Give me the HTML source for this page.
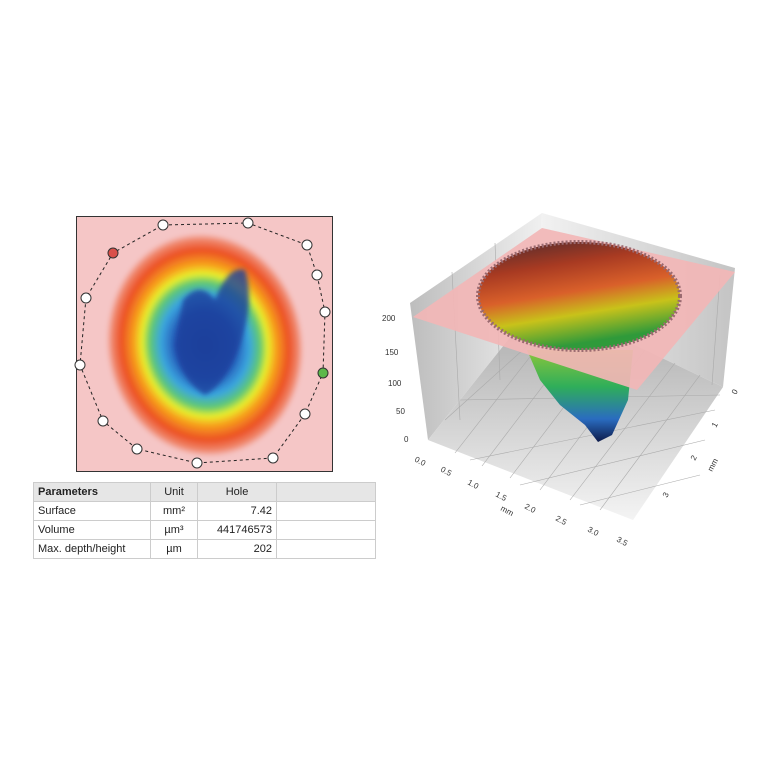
<!DOCTYPE html>
<html><head><meta charset="utf-8"><style>
body{margin:0;background:#fff;width:768px;height:768px;overflow:hidden;font-family:"Liberation Sans",sans-serif}
svg{position:absolute;left:0;top:0}
table{position:absolute;left:33px;top:482px;border-collapse:collapse;font-size:11px;color:#222}
td{border:1px solid #ccc;height:18px;padding:0 4px}
</style></head><body>
<svg width="768" height="768" viewBox="0 0 768 768">
<defs>
<radialGradient id="blob" cx="0.5" cy="0.5" r="0.5">
<stop offset="0" stop-color="#1a3f9a"/>
<stop offset="0.3" stop-color="#2556b5"/>
<stop offset="0.45" stop-color="#3aa6e0"/>
<stop offset="0.56" stop-color="#5fc872"/>
<stop offset="0.64" stop-color="#eaf02a"/>
<stop offset="0.72" stop-color="#f7a21e"/>
<stop offset="0.85" stop-color="#ec4f22"/>
<stop offset="0.95" stop-color="#f08a70"/>
<stop offset="1" stop-color="#f5c6c6"/>
</radialGradient>
<filter id="bl"><feGaussianBlur stdDeviation="2.5"/></filter>
<linearGradient id="lw" x1="0" y1="0" x2="1" y2="0"><stop offset="0" stop-color="#bdbdbd"/><stop offset="1" stop-color="#f0f0f0"/></linearGradient>
<linearGradient id="rw" x1="0" y1="0" x2="1" y2="0"><stop offset="0" stop-color="#f2f2f2"/><stop offset="1" stop-color="#c4c4c4"/></linearGradient>
<linearGradient id="fl" x1="0" y1="0" x2="0" y2="1"><stop offset="0" stop-color="#a8a8a8"/><stop offset="1" stop-color="#f4f4f4"/></linearGradient>
<linearGradient id="hole" x1="0" y1="0" x2="0.3" y2="1"><stop offset="0" stop-color="#4a2a2e"/><stop offset="0.3" stop-color="#a83a22"/><stop offset="0.55" stop-color="#d9602a"/><stop offset="0.75" stop-color="#c8c21a"/><stop offset="1" stop-color="#2f9a3a"/></linearGradient>
<linearGradient id="cone" x1="0" y1="0" x2="0" y2="1"><stop offset="0" stop-color="#8cc63a"/><stop offset="0.4" stop-color="#2fae5a"/><stop offset="0.75" stop-color="#2a6cc0"/><stop offset="1" stop-color="#0d1a4a"/></linearGradient>
</defs>
<rect x="76.5" y="216.5" width="256" height="255" fill="#f5c6c6" stroke="#333"/>
<ellipse cx="205" cy="345" rx="98" ry="112" fill="url(#blob)" filter="url(#bl)" transform="rotate(-10 205 345)"/>
<path d="M183 300 Q200 280 215 300 Q228 265 245 270 Q255 300 240 345 Q225 385 205 395 Q180 380 175 345 Z" fill="#1e3f9c" opacity="0.8" filter="url(#bl)"/>
<polygon points="163,225 248,223 307,245 317,275 325,312 323,373 305,414 273,458 197,463 137,449 103,421 80,365 86,298 113,253" fill="none" stroke="#222" stroke-dasharray="3,3"/>
<g stroke="#333" stroke-width="1" fill="#fff">
<circle cx="163" cy="225" r="5"/><circle cx="248" cy="223" r="5"/><circle cx="307" cy="245" r="5"/><circle cx="317" cy="275" r="5"/><circle cx="325" cy="312" r="5"/><circle cx="323" cy="373" r="5" fill="#5cb84a"/><circle cx="305" cy="414" r="5"/><circle cx="273" cy="458" r="5"/><circle cx="197" cy="463" r="5"/><circle cx="137" cy="449" r="5"/><circle cx="103" cy="421" r="5"/><circle cx="80" cy="365" r="5"/><circle cx="86" cy="298" r="5"/><circle cx="113" cy="253" r="5" fill="#d9504a"/>
</g>
<polygon points="410,303 542,213 540,300 428,440" fill="url(#lw)"/>
<polygon points="542,213 735,268 723,387 540,300" fill="url(#rw)"/>
<polygon points="428,440 540,300 723,387 633,520" fill="url(#fl)"/>
<g stroke="#aaa" stroke-width="0.6">
<line x1="455" y1="453" x2="565" y2="312"/><line x1="482" y1="466" x2="590" y2="324"/><line x1="510" y1="478" x2="617" y2="337"/><line x1="540" y1="490" x2="645" y2="350"/><line x1="570" y1="500" x2="675" y2="363"/><line x1="600" y1="510" x2="700" y2="375"/>
<line x1="445" y1="420" x2="565" y2="312"/><line x1="460" y1="400" x2="720" y2="395"/>
<line x1="470" y1="460" x2="715" y2="410"/><line x1="520" y1="485" x2="705" y2="440"/><line x1="580" y1="505" x2="700" y2="475"/>
<line x1="452" y1="272" x2="460" y2="420"/><line x1="495" y1="243" x2="500" y2="380"/><line x1="720" y1="275" x2="712" y2="385"/>
</g>
<polygon points="527,350 633,350 628,400 612,435 598,442 585,425 560,405 540,380" fill="url(#cone)"/>
<polygon points="413,317 542,228 735,272 637,390" fill="#f2b6b6" opacity="0.92"/>
<ellipse cx="579" cy="296" rx="101" ry="54" fill="url(#hole)"/>
<ellipse cx="579" cy="296" rx="101" ry="54" fill="none" stroke="#9a6a70" stroke-width="4" stroke-dasharray="2,2"/>
<g font-size="8" fill="#333">
<text x="382" y="321">200</text><text x="385" y="355">150</text><text x="388" y="386">100</text><text x="396" y="414">50</text><text x="404" y="442">0</text>
<text transform="translate(414,461) rotate(28)">0.0</text><text transform="translate(440,471) rotate(28)">0.5</text><text transform="translate(467,484) rotate(28)">1.0</text><text transform="translate(495,496) rotate(28)">1.5</text><text transform="translate(524,508) rotate(28)">2.0</text><text transform="translate(555,520) rotate(28)">2.5</text><text transform="translate(587,531) rotate(28)">3.0</text><text transform="translate(616,541) rotate(28)">3.5</text>
<text transform="translate(500,510) rotate(28)">mm</text>
<text transform="translate(736,395) rotate(-62)">0</text><text transform="translate(716,428) rotate(-62)">1</text><text transform="translate(695,461) rotate(-62)">2</text><text transform="translate(667,498) rotate(-62)">3</text><text transform="translate(712,472) rotate(-62)">mm</text>
</g>
</svg>
<table>
<tr style="background:#e6e6e6"><td style="width:108px"><b>Parameters</b></td><td style="width:38px;text-align:center">Unit</td><td style="width:70px;text-align:center">Hole</td><td style="width:90px"></td></tr>
<tr><td>Surface</td><td style="text-align:center">mm²</td><td style="text-align:right">7.42</td><td></td></tr>
<tr><td>Volume</td><td style="text-align:center">µm³</td><td style="text-align:right">441746573</td><td></td></tr>
<tr><td>Max. depth/height</td><td style="text-align:center">µm</td><td style="text-align:right">202</td><td></td></tr>
</table>
</body></html>
